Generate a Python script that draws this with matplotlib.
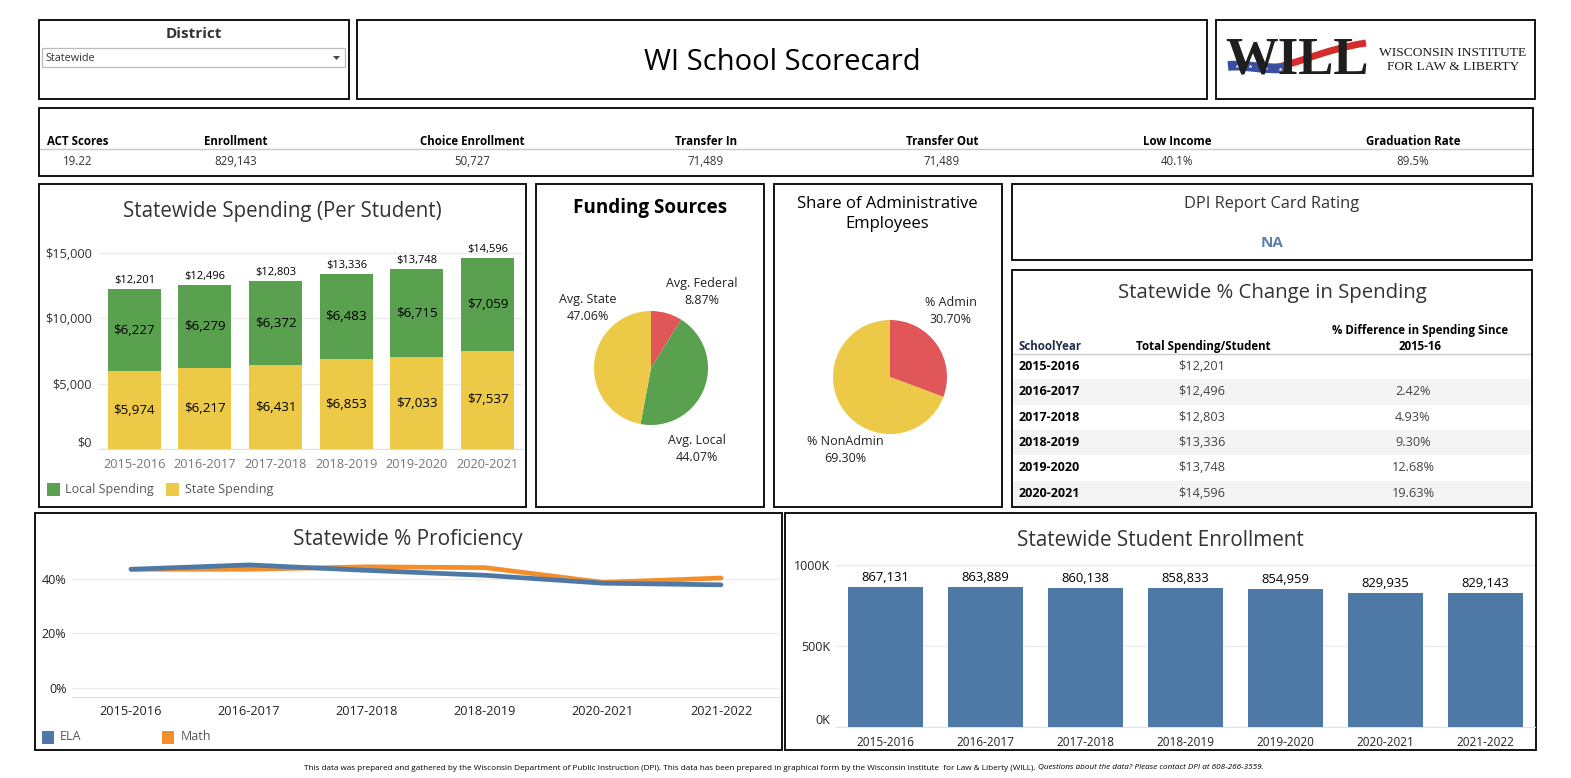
import matplotlib
matplotlib.use('Agg')
import matplotlib.pyplot as plt
from matplotlib.patches import Rectangle, PathPatch
from matplotlib.path import Path

# ---------------- data ----------------
district = "Statewide"
kpi_labels = ["ACT Scores", "Enrollment", "Choice Enrollment", "Transfer In",
              "Transfer Out", "Low Income", "Graduation Rate"]
kpi_values = ["19.22", "829,143", "50,727", "71,489", "71,489", "40.1%", "89.5%"]

spend_years = ["2015-2016", "2016-2017", "2017-2018", "2018-2019", "2019-2020", "2020-2021"]
state_spending = [5974, 6217, 6431, 6853, 7033, 7537]
local_spending = [6227, 6279, 6372, 6483, 6715, 7059]
total_spending = [12201, 12496, 12803, 13336, 13748, 14596]

funding_labels = ["Avg. Federal", "Avg. Local", "Avg. State"]
funding_values = [8.87, 44.07, 47.06]

admin_labels = ["% Admin", "% NonAdmin"]
admin_values = [30.70, 69.30]

dpi_rating = "NA"

table_years = ["2015-2016", "2016-2017", "2017-2018", "2018-2019", "2019-2020", "2020-2021"]
table_spending = [12201, 12496, 12803, 13336, 13748, 14596]
table_pct_diff = [None, 2.42, 4.93, 9.30, 12.68, 19.63]

prof_years = ["2015-2016", "2016-2017", "2017-2018", "2018-2019", "2020-2021", "2021-2022"]
ela = [43.4, 45.0, 43.0, 41.2, 38.3, 37.7]
math_scores = [43.4, 43.4, 44.3, 44.0, 38.6, 40.2]

enroll_years = ["2015-2016", "2016-2017", "2017-2018", "2018-2019", "2019-2020", "2020-2021", "2021-2022"]
enrollment = [867131, 863889, 860138, 858833, 854959, 829935, 829143]

# ---------------- style ----------------
GREEN = "#59A14F"
YELLOW = "#EDC948"
RED = "#E15759"
BLUE = "#4E79A7"
ORANGE = "#F28E2B"
DARK = "#333333"
GRID = "#EBEBEB"
FONT = "Open Sans"
plt.rcParams['font.family'] = [FONT, 'DejaVu Sans']

W, H = 1571, 778
fig = plt.figure(figsize=(W / 100, H / 100), dpi=100)
fig.patch.set_facecolor('white')

ov = fig.add_axes([0, 0, 1, 1])
ov.set_xlim(0, W)
ov.set_ylim(H, 0)
ov.axis('off')


def box(x0, y0, x1, y1, lw=1.3):
    ov.add_patch(Rectangle((x0, y0), x1 - x0, y1 - y0, fill=False, ec='black', lw=lw, zorder=5))


def axpx(x0, y0, x1, y1):
    a = fig.add_axes([x0 / W, 1 - y1 / H, (x1 - x0) / W, (y1 - y0) / H])
    a.set_facecolor('none')
    return a


def t(x, y, s, size=9, ha='center', va='center', color=DARK, weight='normal', **kw):
    return ov.text(x, y, s, fontsize=size, ha=ha, va=va, color=color, fontweight=weight, **kw)


# ---------------- header row ----------------
box(39, 20, 349, 99)
t(194, 34, "District", size=11, weight='bold')
ov.add_patch(Rectangle((42, 48), 303, 19, fill=False, ec='#BBBBBB', lw=0.9))
t(45, 58, district, size=7.8, ha='left', color='#333333')
ov.add_patch(plt.Polygon([[333, 56], [340, 56], [336.5, 60]], closed=True, fc='#444444', ec='none'))

box(357, 20, 1207, 99)
t(782, 62, "WI School Scorecard", size=21, color='black')

box(1216, 20, 1535, 99)
# simple logo rendition
verts = [(1262, 70), (1295, 66), (1320, 50), (1366, 43)]
ov.add_patch(PathPatch(Path(verts, [Path.MOVETO, Path.CURVE4, Path.CURVE4, Path.CURVE4]),
                       fc='none', ec='#D42B2B', lw=5, zorder=2, capstyle='butt'))
verts2 = [(1228, 66), (1245, 64), (1260, 70), (1290, 68)]
ov.add_patch(PathPatch(Path(verts2, [Path.MOVETO, Path.CURVE4, Path.CURVE4, Path.CURVE4]),
                       fc='none', ec='#3B4FA0', lw=7, zorder=2, capstyle='butt'))
ov.scatter([1237, 1250, 1266, 1280], [65.5, 66, 68, 68.5], marker='*', s=9, c='white',
           linewidths=0, zorder=2.5)
ov.text(1297, 60, "WILL", fontsize=38, family='Liberation Serif', fontweight='bold',
        ha='center', va='center', color='#1E1E1E', zorder=3)
ov.text(1453, 53, "WISCONSIN INSTITUTE", fontsize=9.7, family='Liberation Serif',
        ha='center', va='center', color='#1A1A1A')
ov.text(1453, 67, "FOR LAW & LIBERTY", fontsize=9.7, family='Liberation Serif',
        ha='center', va='center', color='#1A1A1A')

# ---------------- KPI row ----------------
box(39, 108, 1533, 176)
kpi_x = [78, 236, 472, 706, 942, 1177, 1413]
ov.plot([39, 1533], [149, 149], color='#C8C8C8', lw=1)
for x, lab, val in zip(kpi_x, kpi_labels, kpi_values):
    t(x, 141, lab, size=8.3, weight='bold', color='black')
    t(x, 161, val, size=8.3, color='#333333')

# ---------------- spending chart ----------------
box(39, 184, 526, 507)
t(282, 211, "Statewide Spending (Per Student)", size=14.8)
ax = axpx(99, 231.7, 523, 449.3)
xs = range(len(spend_years))
ax.bar(xs, state_spending, width=0.75, color=YELLOW, zorder=3)
ax.bar(xs, local_spending, width=0.75, bottom=state_spending, color=GREEN, zorder=3)
for i in xs:
    ax.text(i, state_spending[i] / 2, f"${state_spending[i]:,}", ha='center', va='center',
            fontsize=9.6, color='black', zorder=4)
    ax.text(i, state_spending[i] + local_spending[i] / 2, f"${local_spending[i]:,}",
            ha='center', va='center', fontsize=9.6, color='black', zorder=4)
    ax.text(i, total_spending[i] + 250, f"${total_spending[i]:,}", ha='center', va='bottom',
            fontsize=8, color='black', zorder=4)
ax.set_xlim(-0.5, len(spend_years) - 0.5)
ax.set_ylim(0, 16600)
ax.set_yticks([0, 5000, 10000, 15000])
ax.set_yticklabels(["$0", "$5,000", "$10,000", "$15,000"])
ax.set_xticks(list(xs))
ax.set_xticklabels(spend_years)
ax.tick_params(axis='y', length=0, labelsize=9.2, labelcolor=DARK, pad=5)
ax.tick_params(axis='x', length=0, labelsize=9.2, labelcolor='#777777', pad=6)
ax.get_yticklabels()[0].set_va('bottom')
ax.grid(axis='y', color=GRID, lw=1, zorder=0)
for s in ['top', 'right', 'left']:
    ax.spines[s].set_visible(False)
ax.spines['bottom'].set_color('#E0E0E0')
ov.add_patch(Rectangle((47, 483), 13, 13, fc=GREEN, ec='none'))
t(65, 489, "Local Spending", size=9, ha='left', color='#555555')
ov.add_patch(Rectangle((166, 483), 13, 13, fc=YELLOW, ec='none'))
t(185, 489, "State Spending", size=9, ha='left', color='#555555')

# ---------------- funding pie ----------------
box(536, 184, 764, 507)
t(650, 208, "Funding Sources", size=13.6, weight='bold', color='black')
pa = axpx(651 - 57, 368 - 57, 651 + 57, 368 + 57)
pa.pie(funding_values, colors=[RED, GREEN, YELLOW], startangle=90, counterclock=False,
       radius=1, wedgeprops=dict(linewidth=0))
pa.set_xlim(-1, 1); pa.set_ylim(-1, 1)
fpos = {"Avg. Federal": (702, 292), "Avg. Local": (697, 449), "Avg. State": (588, 308)}
for lab, v in zip(funding_labels, funding_values):
    x, y = fpos[lab]
    t(x, y, f"{lab}\n{v:.2f}%", size=9, color='#222222', linespacing=1.4)

# ---------------- admin pie ----------------
box(774, 184, 1002, 507)
t(887, 214, "Share of Administrative\nEmployees", size=12, color='black', linespacing=1.4)
pb = axpx(890 - 57, 377 - 57, 890 + 57, 377 + 57)
pb.pie(admin_values, colors=[RED, YELLOW], startangle=90, counterclock=False,
       radius=1, wedgeprops=dict(linewidth=0))
pb.set_xlim(-1, 1); pb.set_ylim(-1, 1)
apos = {"% Admin": (951, 311), "% NonAdmin": (845, 450)}
for lab, v in zip(admin_labels, admin_values):
    x, y = apos[lab]
    t(x, y, f"{lab}\n{v:.2f}%", size=9, color='#222222', linespacing=1.4)

# ---------------- DPI rating ----------------
box(1012, 184, 1532, 260)
t(1272, 204, "DPI Report Card Rating", size=11.8, color=DARK)
t(1272, 243, dpi_rating, size=11, color='#5B80AC', weight='bold')

# ---------------- table ----------------
box(1012, 270, 1532, 507)
t(1272, 293, "Statewide % Change in Spending", size=14.7)
t(1019, 346, "SchoolYear", size=8.3, ha='left', weight='bold', color='#1E2F4D')
t(1203, 346, "Total Spending/Student", size=8.3, weight='bold', color='black')
t(1420, 330, "% Difference in Spending Since", size=8.3, weight='bold', color='black')
t(1420, 346, "2015-16", size=8.3, weight='bold', color='black')
ov.plot([1013, 1531], [354, 354], color='#CCCCCC', lw=1)
row_h = 25.3
for i, (yr, sp, pdiff) in enumerate(zip(table_years, table_spending, table_pct_diff)):
    top = 354 + i * row_h
    cy = top + row_h / 2
    if i % 2 == 1:
        ov.add_patch(Rectangle((1013, top), 518, row_h, fc='#F4F4F4', ec='none', zorder=1))
    t(1019, cy, yr, size=9, ha='left', weight='bold', color='black')
    t(1202, cy, f"${sp:,}", size=9.2, color='#444444')
    if pdiff is not None:
        t(1413, cy, f"{pdiff:.2f}%", size=9.2, color='#444444')

# ---------------- proficiency ----------------
box(35, 513, 782, 750)
t(408, 540, "Statewide % Proficiency", size=15)
ax2 = axpx(72, 560, 780, 697)
px = range(len(prof_years))
ax2.plot(px, math_scores, color=ORANGE, lw=3.4, solid_capstyle='round', zorder=3)
ax2.plot(px, ela, color=BLUE, lw=3.4, solid_capstyle='round', zorder=4)
ax2.set_xlim(-0.5, len(prof_years) - 0.5)
ax2.set_ylim(-3.4, 46.8)
ax2.set_yticks([0, 20, 40])
ax2.set_yticklabels(["0%", "20%", "40%"])
ax2.set_xticks(list(px))
ax2.set_xticklabels(prof_years)
ax2.tick_params(axis='y', length=0, labelsize=9, labelcolor='#222222', pad=4)
ax2.tick_params(axis='x', length=0, labelsize=9.2, labelcolor='#222222', pad=6)
ax2.grid(axis='y', color=GRID, lw=1, zorder=0)
for s in ['top', 'right', 'left']:
    ax2.spines[s].set_visible(False)
ax2.spines['bottom'].set_color('#E0E0E0')
ov.add_patch(Rectangle((42, 731), 12, 13, fc=BLUE, ec='none'))
t(60, 737, "ELA", size=9, ha='left', color='#555555')
ov.add_patch(Rectangle((162, 731), 12, 13, fc=ORANGE, ec='none'))
t(181, 737, "Math", size=9, ha='left', color='#555555')

# ---------------- enrollment ----------------
box(785, 513, 1536, 750)
t(1160, 540, "Statewide Student Enrollment", size=14.9)
ax3 = axpx(835.7, 561.7, 1535, 726.7)
ex = range(len(enroll_years))
ax3.bar(ex, enrollment, width=0.75, color=BLUE, zorder=3)
for i in ex:
    ax3.text(i, enrollment[i] + 18000, f"{enrollment[i]:,}", ha='center', va='bottom',
             fontsize=9.4, color='black', zorder=4)
ax3.set_xlim(-0.5, len(enroll_years) - 0.5)
ax3.set_ylim(0, 1022000)
ax3.set_yticks([0, 500000, 1000000])
ax3.set_yticklabels(["0K", "500K", "1000K"])
ax3.set_xticks(list(ex))
ax3.set_xticklabels(enroll_years)
ax3.tick_params(axis='y', length=0, labelsize=9, labelcolor='#222222', pad=4)
ax3.tick_params(axis='x', length=0, labelsize=8.5, labelcolor='#222222', pad=7)
ax3.get_yticklabels()[0].set_va('bottom')
ax3.grid(axis='y', color=GRID, lw=1, zorder=0)
for s in ['top', 'right', 'left']:
    ax3.spines[s].set_visible(False)
ax3.spines['bottom'].set_color('#E0E0E0')

# ---------------- footer ----------------
foot1 = ("This data was prepared and gathered by the Wisconsin Department of Public Instruction (DPI). "
         "This data has been prepared in graphical form by the Wisconsin Institute  for Law & Liberty (WILL). ")
foot2 = "Questions about the data? Please contact DPI at 608-266-3559."
r = fig.canvas.get_renderer()
f1 = ov.text(0, 768, foot1, fontsize=5.85, ha='left', va='center', color='black')
f2 = ov.text(0, 768, foot2, fontsize=5.85, ha='left', va='center', color='black', style='italic')
w1 = f1.get_window_extent(r).width
w2 = f2.get_window_extent(r).width
start = 784 - (w1 + w2) / 2
f1.set_x(start)
f2.set_x(start + w1)

fig.savefig("out.png", dpi=100, facecolor='white')
